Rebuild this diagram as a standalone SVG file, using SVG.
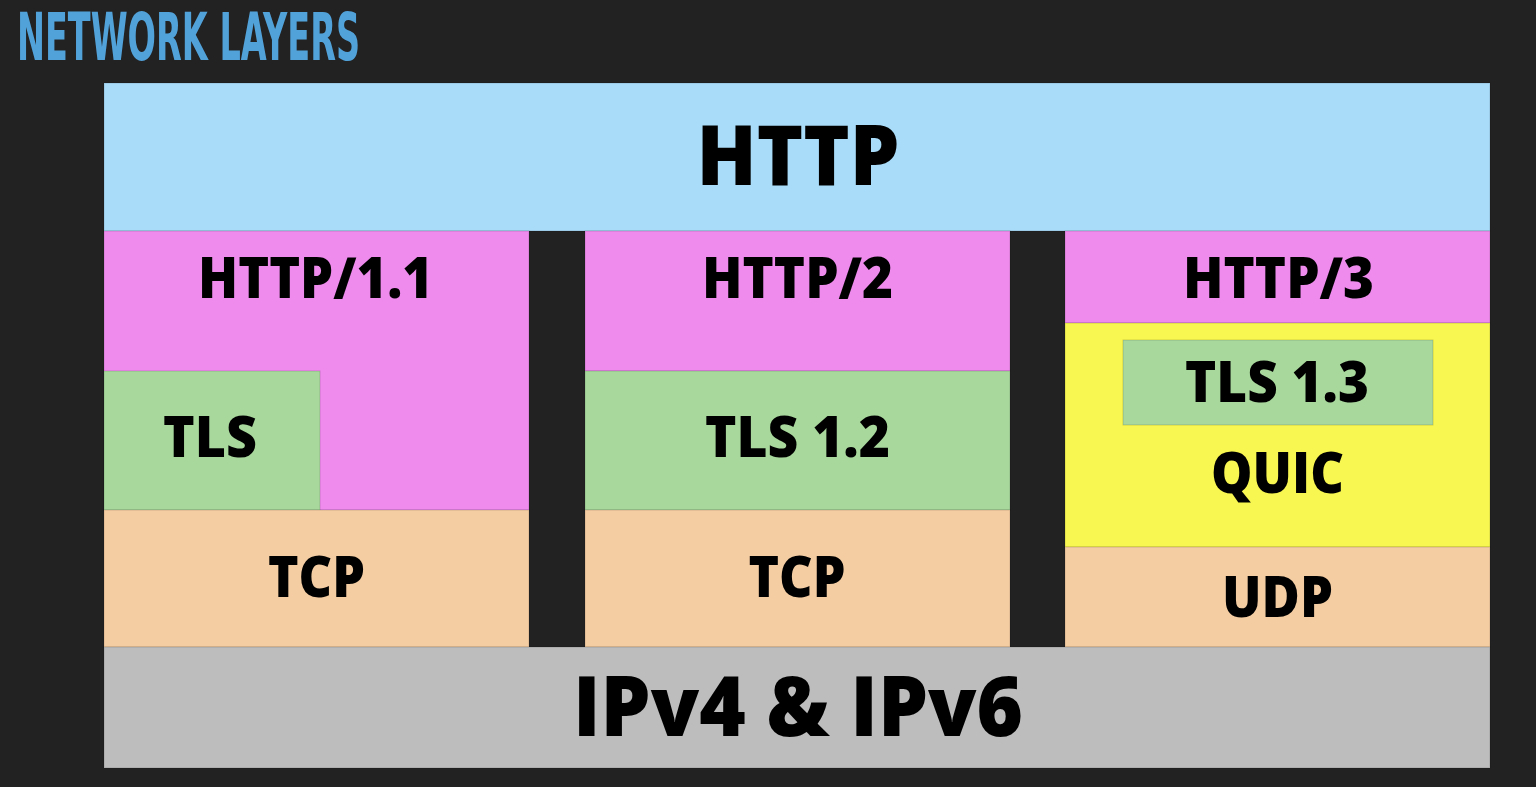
<svg xmlns="http://www.w3.org/2000/svg" width="1536" height="787" viewBox="0 0 1536 787">
<style>
.t{font-family:"Open Sans","Noto Sans","Liberation Sans",sans-serif;font-weight:800;fill:#000;text-anchor:middle}
.m{font-size:56px}
.b{font-size:84px}
.box{stroke:rgba(0,0,0,0.15);stroke-width:1}
.title{font-family:"Liberation Sans Narrow","DejaVu Sans Condensed","Liberation Sans",sans-serif;font-weight:bold;font-size:65px;fill:#52a2da}
</style>
<rect x="0" y="0" width="1536" height="787" fill="#222222"/>
<text class="title" x="17" y="60" textLength="343" lengthAdjust="spacingAndGlyphs">NETWORK LAYERS</text>
<g id="http">
<rect class="box" x="104" y="83" width="1386" height="148" fill="#a8dcf9"/>
<text class="t b" x="798" y="185" textLength="203" lengthAdjust="spacingAndGlyphs">HTTP</text>
</g>
<g id="http11">
<rect class="box" x="104" y="231" width="425" height="279" fill="#ee8bed"/>
<text class="t m" x="315.5" y="298" textLength="235" lengthAdjust="spacingAndGlyphs">HTTP/1.1</text>
</g>
<g id="tls">
<rect class="box" x="104" y="371" width="216" height="139" fill="#a8d89c"/>
<text class="t m" x="210" y="457" textLength="94" lengthAdjust="spacingAndGlyphs">TLS</text>
</g>
<g id="tcp1">
<rect class="box" x="104" y="510" width="425" height="137" fill="#f5cda3"/>
<text class="t m" x="316.5" y="597" textLength="97" lengthAdjust="spacingAndGlyphs">TCP</text>
</g>
<g id="http2">
<rect class="box" x="585" y="231" width="425" height="140" fill="#ee8bed"/>
<text class="t m" x="797.5" y="298" textLength="191" lengthAdjust="spacingAndGlyphs">HTTP/2</text>
</g>
<g id="tls12">
<rect class="box" x="585" y="371" width="425" height="139" fill="#a8d89c"/>
<text class="t m" x="797.5" y="457" textLength="185" lengthAdjust="spacingAndGlyphs">TLS 1.2</text>
</g>
<g id="tcp2">
<rect class="box" x="585" y="510" width="425" height="137" fill="#f5cda3"/>
<text class="t m" x="797" y="597" textLength="97" lengthAdjust="spacingAndGlyphs">TCP</text>
</g>
<g id="http3">
<rect class="box" x="1065" y="231" width="425" height="92" fill="#ee8bed"/>
<text class="t m" x="1278.5" y="298" textLength="191" lengthAdjust="spacingAndGlyphs">HTTP/3</text>
</g>
<g id="quic">
<rect class="box" x="1065" y="323" width="425" height="224" fill="#f8f650"/>
<text class="t m" x="1277.5" y="493" textLength="133" lengthAdjust="spacingAndGlyphs">QUIC</text>
</g>
<g id="tls13">
<rect class="box" x="1123" y="340" width="310" height="85" fill="#a8d89c"/>
<text class="t m" x="1277" y="402" textLength="184" lengthAdjust="spacingAndGlyphs">TLS 1.3</text>
</g>
<g id="udp">
<rect class="box" x="1065" y="547" width="425" height="100" fill="#f5cda3"/>
<text class="t m" x="1277.5" y="617" textLength="111" lengthAdjust="spacingAndGlyphs">UDP</text>
</g>
<g id="ip">
<rect class="box" x="104" y="647" width="1386" height="121" fill="#bdbdbd"/>
<text class="t b" x="798" y="736" textLength="450" lengthAdjust="spacingAndGlyphs">IPv4 &amp; IPv6</text>
</g>
<g id="connectors"></g>
</svg>
